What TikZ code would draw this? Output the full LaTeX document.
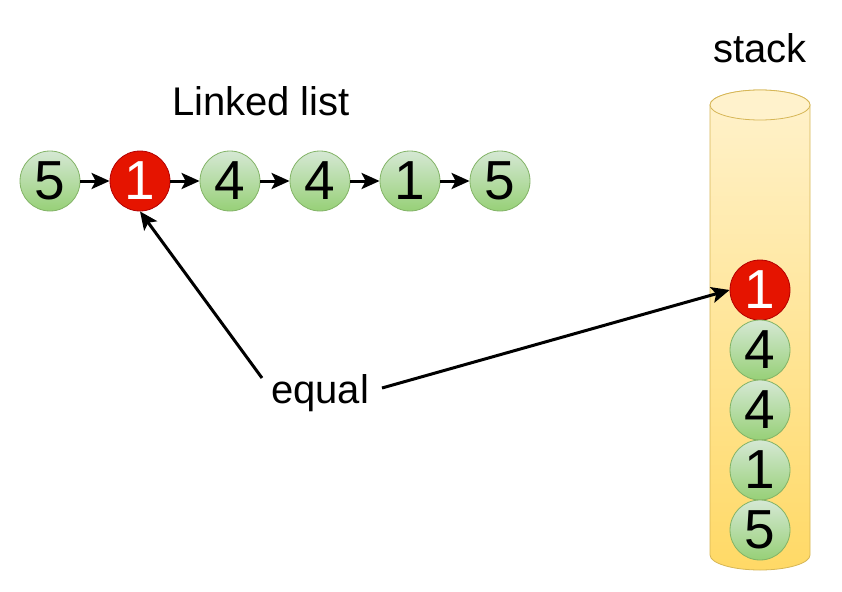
\documentclass[tikz,border=0pt]{standalone}
\usepackage{fontspec}
\setmainfont{Liberation Sans}
\usetikzlibrary{arrows.meta}
\definecolor{gtop}{HTML}{D5E8D4}
\definecolor{gbot}{HTML}{97D077}
\definecolor{gline}{HTML}{82B366}
\definecolor{rfill}{HTML}{E51400}
\definecolor{rline}{HTML}{B20000}
\definecolor{ytop}{HTML}{FFF2CC}
\definecolor{ybot}{HTML}{FFD966}
\definecolor{yline}{HTML}{D6B656}
\begin{document}
\begin{tikzpicture}[x=1pt,y=-1pt,
  gnode/.style={circle, minimum size=60pt, inner sep=0pt, draw=gline, line width=0.8pt,
    top color=gtop, bottom color=gbot, font=\fontsize{55}{55}\selectfont},
  rnode/.style={circle, minimum size=60pt, inner sep=0pt, draw=rline, line width=0.8pt,
    fill=rfill, text=white, font=\fontsize{55}{55}\selectfont},
  lbl/.style={inner sep=0pt, anchor=base, font=\fontsize{40}{40}\selectfont},
  arr/.style={line width=3pt, -{Stealth[length=18pt,width=16pt,inset=4pt]}}]
\useasboundingbox (0,0) rectangle (842,591);
% stack cylinder
\path[top color=ytop, bottom color=ybot, draw=yline, line width=0.8pt]
  (710,105) -- (710,555) arc[start angle=180, end angle=0, x radius=50, y radius=15]
  -- (810,105) arc[start angle=0, end angle=-180, x radius=50, y radius=15] -- cycle;
\draw[fill=ytop, draw=yline, line width=0.8pt] (760,105) ellipse[x radius=50, y radius=15];
% labels
\node[lbl] (tstack) at (760,63) {stack};
\node[lbl] (tlist) at (261,115) {Linked list};
\node[lbl] (teq) at (320,403) {equal};
% linked list
\node[gnode] (l1) at (50,181) {5};
\node[rnode] (l2) at (140,181) {1};
\node[gnode] (l3) at (230,181) {4};
\node[gnode] (l4) at (320,181) {4};
\node[gnode] (l5) at (410,181) {1};
\node[gnode] (l6) at (500,181) {5};
\draw[arr] (l1) -- (l2);
\draw[arr] (l2) -- (l3);
\draw[arr] (l3) -- (l4);
\draw[arr] (l4) -- (l5);
\draw[arr] (l5) -- (l6);
% stack content
\node[rnode] (s1) at (760,290) {1};
\node[gnode] (s2) at (760,350) {4};
\node[gnode] (s3) at (760,410) {4};
\node[gnode] (s4) at (760,470) {1};
\node[gnode] (s5) at (760,530) {5};
% equal arrows
\coordinate (e1) at (262,378);
\coordinate (e2) at (382,388);
\draw[arr] (e1) -- (l2.south);
\draw[arr] (e2) -- (s1.west);
\end{tikzpicture}
\end{document}
